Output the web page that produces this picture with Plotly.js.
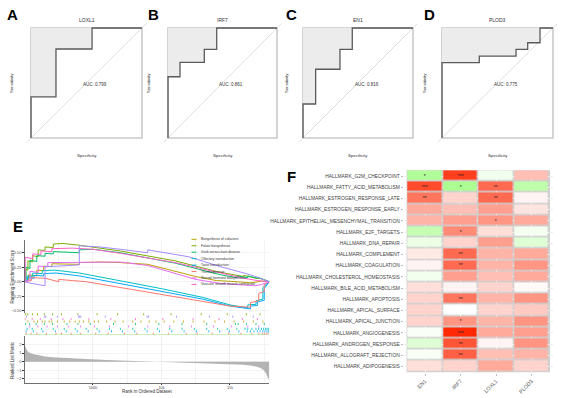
<!DOCTYPE html>
<html><head><meta charset="utf-8">
<script src="https://cdn.plot.ly/plotly-3.0.1.min.js"></script>
<style>html,body{margin:0;padding:0;background:#fff}#plot{width:567px;height:398px}</style>
</head><body><div id="plot"></div>
<script>
// ---------- ROC data (A-D) ----------
const rocGenes = ['LOXL1','IRF7','EN1','PLOD3'];
const rocAUC = ['AUC: 0.799','AUC: 0.861','AUC: 0.816','AUC: 0.775'];
const specLOXL1 = [1,1,0.775,0.775,0.45,0.45,0];
const sensLOXL1 = [0,0.373,0.373,0.809,0.809,1,1];
const specIRF7 = [1,1,0.89,0.89,0.667,0.667,0.553,0.553,0];
const sensIRF7 = [0,0.557,0.557,0.688,0.688,0.806,0.806,1,1];
const specEN1 = [1,1,0.885,0.885,0.664,0.664,0.552,0.552,0];
const sensEN1 = [0,0.309,0.309,0.625,0.625,0.806,0.806,1,1];
const specPLOD3 = [1,1,0.664,0.664,0.333,0.333,0.228,0.228,0.117,0.117,0];
const sensPLOD3 = [0,0.685,0.685,0.745,0.745,0.806,0.806,0.866,0.866,1,1];

// ---------- GSEA data (E) ----------
const setNames = ['Biosynthesis of cofactors','Folate biosynthesis','Graft-versus-host disease','Olfactory transduction','Taste transduction','Thermogenesis','Steroid hormone biosynthesis','Vascular smooth muscle contraction'];
const setColors = ['#B8A000','#7CAE00','#00BE67','#00BFC4','#00A9FF','#F8766D','#E76BF3','#FF61CC'];
const esRankOlive = [0,300,300,900,900,1400,1400,2000,2000,3000,4000,4000,5500,7000,9000,12500,14000,15500,16500,17300,17870];
const esOlive = [0,0.03,0.12,0.1,0.2,0.19,0.27,0.26,0.31,0.3,0.3,0.33,0.34,0.33,0.3,0.09,0.02,0.0,-0.02,0.01,0];
const esRankGreen = [0,100,100,250,250,600,600,1000,1000,1500,1500,2100,2100,2800,4000,7000,11000,14300,16000,16000,16900,17300,17870];
const esGreen = [0,0.05,0.22,0.2,0.36,0.34,0.45,0.43,0.55,0.54,0.6,0.59,0.65,0.66,0.63,0.53,0.36,0.16,0.09,0.11,0.06,0.05,0];
const esRankTeal = [0,100,100,400,400,900,900,1500,1500,2100,2100,4000,4000,5000,7000,11000,14300,15500,15500,16300,16300,17000,17000,17870];
const esTeal = [0,0.02,0.25,0.23,0.37,0.35,0.45,0.44,0.49,0.48,0.52,0.5,0.55,0.56,0.5,0.32,0.12,0.07,0.1,0.07,0.1,0.06,0.08,0];
const esRankCyan = [0,200,200,600,600,1300,1300,2200,4000,7000,10000,13000,15000,16000,16300,16300,16900,16900,17400,17400,17870];
const esCyan = [0,0.02,0.1,0.09,0.15,0.14,0.19,0.2,0.15,0.02,-0.12,-0.27,-0.4,-0.44,-0.45,-0.4,-0.39,-0.33,-0.3,-0.1,0];
const esRankBlue = [0,200,200,700,700,1400,1400,2300,4000,7000,10000,13000,15000,16200,16500,16500,17000,17000,17500,17500,17870];
const esBlue = [0,0.01,0.07,0.06,0.11,0.1,0.14,0.15,0.1,-0.03,-0.16,-0.3,-0.42,-0.46,-0.47,-0.42,-0.41,-0.35,-0.32,-0.12,0];
const esRankRed = [0,500,500,1500,2500,2500,3500,4500,7000,10000,13000,15000,16500,16500,17100,17100,17500,17500,17870];
const esRed = [0,0.02,0.07,0.06,0.0,0.04,0.02,0.0,-0.1,-0.22,-0.34,-0.42,-0.44,-0.36,-0.33,-0.2,-0.17,-0.05,0];
const esRankLav = [0,300,1500,1500,2500,4000,4000,5500,7000,9000,9000,12000,14300,16500,17870];
const esLav = [0,-0.02,-0.07,0.26,0.27,0.29,0.62,0.6,0.56,0.5,0.55,0.43,0.26,0.12,0];
const esRankPink = [0,50,50,600,600,1200,1200,2000,2000,3500,5000,7000,11000,14300,16000,17000,17870];
const esPink = [0,0,0.42,0.4,0.48,0.47,0.53,0.52,0.57,0.58,0.56,0.49,0.33,0.15,0.06,0.02,0];
const esRankMag = [0,400,400,1000,1000,1700,1700,3000,5000,7000,9000,12500,14300,16000,16800,17300,17870];
const esMag = [0,0.03,0.18,0.16,0.27,0.26,0.33,0.33,0.34,0.34,0.28,0.04,-0.03,-0.06,-0.07,-0.05,0];

const hitsA = [250,700,950,1300,1500,1800,2000,2400,2900,3300,3700,4000,4300,4700,5100,5400,6000,6600,7200,7900,8500,9100,9600,10200,10900,11600,12300,13100,13900,14600,15300,16000,16700,17400];
const hitsB = [90,240,580,950,1450,2050,2700,3900,5300,6800,8700,10700,12900,14800,16200,17200];
const hitsC = [80,380,850,1450,2050,3100,3900,4800,6500,8100,9800,11500,13300,15400,15600,16200,16900,17500];
const hitsD = [190,560,1250,2100,2900,3700,4500,5300,6200,7000,7900,8800,9700,10600,11500,12400,13300,14100,14800,15500,16100,16300,16600,16900,17100,17300,17450,17600,17700,17800];
const hitsE = [120,650,1350,2250,3050,3850,4650,5450,6350,7150,8050,8950,9850,10750,11650,12550,13450,14250,14950,15650,16250,16500,16750,17000,17200,17400,17550,17700,17820];
const hitsF = [120,480,900,1600,2300,2700,3400,4100,5200,6100,7300,8200,9400,10500,11800,12600,13700,14900,15800,16600,17100,17350,17500,17650,17780];
const hitsG = [150,1480,1550,2400,3950,4000,4100,5900,8950,9050,11100,13500,15200,16700];
const hitsH = [40,560,1150,1950,2800,3400,4700,6300,8100,10100,12300,14200,15900,17000];
const hitsI = [380,980,1650,2400,3200,4100,5100,6200,7600,9000,10600,12200,13800,15100,16300,17100];

const metricRank = [0,50,150,300,600,1000,1500,2000,3000,4000,5000,6000,7000,8000,9000,10000,11000,12000,13000,14000,15000,16000,16500,17000,17400,17600,17750,17870];
const metricVal = [2.4,1.8,1.4,1.1,0.88,0.72,0.6,0.5,0.4,0.32,0.25,0.18,0.12,0.06,0.02,-0.03,-0.07,-0.11,-0.16,-0.21,-0.27,-0.36,-0.45,-0.6,-0.9,-1.3,-1.8,-2.3];

// ---------- Heatmap data (F) ----------
const hallmarks = ['HALLMARK_G2M_CHECKPOINT','HALLMARK_FATTY_ACID_METABOLISM','HALLMARK_ESTROGEN_RESPONSE_LATE','HALLMARK_ESTROGEN_RESPONSE_EARLY','HALLMARK_EPITHELIAL_MESENCHYMAL_TRANSITION','HALLMARK_E2F_TARGETS','HALLMARK_DNA_REPAIR','HALLMARK_COMPLEMENT','HALLMARK_COAGULATION','HALLMARK_CHOLESTEROL_HOMEOSTASIS','HALLMARK_BILE_ACID_METABOLISM','HALLMARK_APOPTOSIS','HALLMARK_APICAL_SURFACE','HALLMARK_APICAL_JUNCTION','HALLMARK_ANGIOGENESIS','HALLMARK_ANDROGEN_RESPONSE','HALLMARK_ALLOGRAFT_REJECTION','HALLMARK_ADIPOGENESIS'];
const heatGenes = ['EN1','IRF7','LOXL1','PLOD3'];
const valEN1 = [-0.6,0.85,0.65,0.4,0.35,-0.45,-0.15,0.1,0.05,-0.1,0.15,0.2,0.2,0.2,-0.05,-0.25,-0.05,0.15];
const valIRF7 = [0.9,-0.65,0.2,0.3,0.45,0.55,0.2,0.7,0.7,0.45,0.05,0.65,0.0,0.5,1.0,0.8,0.75,0.2];
const valLOXL1 = [-0.1,0.7,0.7,0.45,0.5,0.15,0.45,0.35,0.35,0.3,0.2,0.35,0.2,0.35,0.4,0.05,0.3,0.4];
const valPLOD3 = [0.3,-0.5,0.05,0.12,0.4,-0.08,-0.25,0.4,0.5,0.4,0.03,0.5,0.25,0.5,0.45,0.5,0.35,0.2];
const starEN1 = ['*','***','**','','','','','','','','','','','','','','',''];
const starIRF7 = ['***','*','','','','*','','**','**','','','**','','*','***','**','**',''];
const starLOXL1 = ['','**','**','','*','','','','','','','','','','','','',''];
const starPLOD3 = ['','','','','','','','','','','','','','','','','',''];

// ---------- helpers ----------
const W = 567, H = 398;
const px = v => v / W;
const py = v => 1 - v / H;
const FONT = 'Liberation Sans, Arial, sans-serif';
const traces = [];
const shapes = [];
const annotations = [];
function note(x, y, text, size, extra) {
  annotations.push(Object.assign({xref: 'paper', yref: 'paper', x: px(x), y: py(y), text: text, showarrow: false,
    xanchor: 'center', yanchor: 'middle', font: {size: size, color: '#333'}}, extra || {}));
}
const layout = {
  width: W, height: H, margin: {l:0, r:0, t:0, b:0},
  paper_bgcolor: '#fff', plot_bgcolor: '#fff', showlegend: false,
  font: {family: FONT, color: '#333'}
};

// ---------- ROC panels ----------
const rocSpec = [specLOXL1, specIRF7, specEN1, specPLOD3];
const rocSens = [sensLOXL1, sensIRF7, sensEN1, sensPLOD3];
const boxes = [{L:31,R:142,T:28,B:138,lab:'A',lx:12,sx:12},{L:168,R:277,T:28,B:138,lab:'B',lx:153,sx:149},{L:303,R:413,T:28,B:138,lab:'C',lx:291,sx:287},{L:442,R:553,T:28,B:138,lab:'D',lx:429,sx:425}];
boxes.forEach((b, i) => {
  const k = i + 1;
  const xa = 'x' + k, ya = 'y' + k;
  const padx = 0.05 * (b.R - b.L), pady = 0.05 * (b.B - b.T);
  layout['xaxis' + k] = {domain: [px(b.L - padx), px(b.R + padx)], range: [1.05, -0.05], visible: false, fixedrange: true};
  layout['yaxis' + k] = {domain: [py(b.B + pady), py(b.T - pady)], range: [-0.05, 1.05], visible: false, fixedrange: true};
  shapes.push({type:'rect', xref: xa, yref: ya, x0: 1, x1: 0, y0: 0, y1: 1, line: {color:'#c9c9c9', width: 1.6}, layer: 'below'});
  traces.push({x: rocSpec[i].concat([1]), y: rocSens[i].concat([1]), xaxis: xa, yaxis: ya, type: 'scatter', mode: 'lines', fill: 'toself', fillcolor: '#ececec', line: {width: 0}, hoverinfo: 'skip'});
  traces.push({x: [1.04, -0.04], y: [-0.04, 1.04], xaxis: xa, yaxis: ya, type: 'scatter', mode: 'lines', line: {color: '#d6d6d6', width: 0.8}, hoverinfo: 'skip'});
  traces.push({x: rocSpec[i], y: rocSens[i], xaxis: xa, yaxis: ya, type: 'scatter', mode: 'lines', line: {color: '#5a5a5a', width: 1.3}, hoverinfo: 'skip'});
  annotations.push({xref: xa, yref: ya, x: 0.42, y: 0.49, xanchor: 'center', yanchor: 'middle', text: rocAUC[i], showarrow: false, font: {size: 4.5, color: '#333'}});
  note((b.L + b.R) / 2, 19.5, rocGenes[i], 5);
  note((b.L + b.R) / 2, 155, 'Specificity', 4.3);
  note(b.sx, (b.T + b.B) / 2, 'Sensitivity', 4.3, {textangle: -90});
  note(b.lx, 15, '<b>' + b.lab + '</b>', 15, {font: {size: 15, color: '#000'}});
});

// ---------- GSEA panel ----------
const rmax = 17870;
const gridC = '#ebebeb';
const eL = 24.5, eR = 269.3;
layout.xaxis5 = {domain: [px(eL), px(eR)], range: [0, rmax], showticklabels: false, ticks: '', showgrid: true, gridcolor: gridC, gridwidth: 0.6, dtick: 5000, minor: {dtick: 2500, showgrid: true, gridcolor: gridC, gridwidth: 0.6}, zeroline: false, anchor: 'y5', fixedrange: true};
layout.yaxis5 = {domain: [py(313), py(240)], range: [-0.54, 0.72], tickvals: [-0.5, -0.25, 0, 0.25, 0.5], ticktext: ['−0.50','−0.25','0.00','0.25','0.50'], tickfont: {size: 4, color: '#4d4d4d'}, ticks: 'outside', ticklen: 1.5, tickcolor: '#333', showline: true, linecolor: '#333', linewidth: 0.7, showgrid: true, gridcolor: gridC, gridwidth: 0.6, zeroline: false, anchor: 'x5', fixedrange: true};
layout.xaxis6 = {domain: [px(eL), px(eR)], range: [0, rmax], showticklabels: false, ticks: '', showgrid: true, gridcolor: gridC, gridwidth: 0.6, dtick: 5000, minor: {dtick: 2500, showgrid: true, gridcolor: gridC, gridwidth: 0.6}, zeroline: false, anchor: 'y6', fixedrange: true};
layout.yaxis6 = {domain: [py(335), py(313)], range: [0, 9], visible: false, anchor: 'x6', fixedrange: true};
layout.xaxis7 = {domain: [px(eL), px(eR)], range: [0, rmax], tickvals: [5000, 10000, 15000], tickfont: {size: 3.8, color: '#4d4d4d'}, ticks: 'outside', ticklen: 1, tickcolor: '#333', showline: true, linecolor: '#333', linewidth: 0.7, showgrid: true, gridcolor: gridC, gridwidth: 0.6, minor: {dtick: 2500, showgrid: true, gridcolor: gridC, gridwidth: 0.6}, zeroline: false, anchor: 'y7', fixedrange: true};
layout.yaxis7 = {domain: [py(383), py(336)], range: [-2.5, 3.0], tickvals: [-2, -1, 0, 1, 2], ticktext: ['−2','−1','0','1','2'], tickfont: {size: 4, color: '#4d4d4d'}, ticks: 'outside', ticklen: 1.5, tickcolor: '#333', showline: true, linecolor: '#333', linewidth: 0.7, showgrid: true, gridcolor: gridC, gridwidth: 0.6, zeroline: false, anchor: 'x7', fixedrange: true};

const esSeries = [
  [esRankOlive, esOlive, setColors[0]],
  [esRankGreen, esGreen, setColors[1]],
  [esRankTeal, esTeal, setColors[2]],
  [esRankCyan, esCyan, setColors[3]],
  [esRankBlue, esBlue, setColors[4]],
  [esRankRed, esRed, setColors[5]],
  [esRankMag, esMag, setColors[6]],
  [esRankPink, esPink, setColors[7]],
  [esRankLav, esLav, '#A58AFF']
];
esSeries.forEach(s => traces.push({x: s[0], y: s[1], xaxis: 'x5', yaxis: 'y5', type: 'scatter', mode: 'lines', line: {color: s[2], width: 1}, hoverinfo: 'skip'}));

const hitSets = [hitsB, hitsG, hitsH, hitsA, hitsC, hitsI, hitsD, hitsE, hitsF];
const hitColors = ['#7CAE00', '#A58AFF', '#FF61CC', '#B8A000', '#00BE67', '#E76BF3', '#00BFC4', '#00A9FF', '#F8766D'];
hitSets.forEach((h, i) => {
  const yv = 8.5 - i;
  const xs = [], ys = [];
  h.forEach(r => { xs.push(r, r, null); ys.push(yv - 0.45, yv + 0.45, null); });
  traces.push({x: xs, y: ys, xaxis: 'x6', yaxis: 'y6', type: 'scatter', mode: 'lines', line: {color: hitColors[i], width: 0.8}, hoverinfo: 'skip'});
});
shapes.push({type: 'line', xref: 'x6', yref: 'y6', x0: 0, x1: rmax, y0: 0, y1: 0, line: {color: '#9be07a', width: 1}});
traces.push({x: metricRank, y: metricVal, xaxis: 'x7', yaxis: 'y7', type: 'scatter', mode: 'lines', fill: 'tozeroy', fillcolor: '#b3b3b3', line: {width: 0, color: '#b3b3b3'}, hoverinfo: 'skip'});

// legend (manual)
setNames.forEach((n, i) => {
  const yy = 239.3 + i * 6.45;
  shapes.push({type: 'line', xref: 'paper', yref: 'paper', x0: px(191.5), x1: px(196.5), y0: py(yy), y1: py(yy), line: {color: setColors[i], width: 1}});
  note(198.5, yy, n, 3.4, {xanchor: 'left'});
});
note(12, 276.5, 'Running Enrichment Score', 4.5, {textangle: -90});
note(12, 360, 'Ranked List Metric', 4.5, {textangle: -90});
note(147, 391.5, 'Rank in Ordered Dataset', 4.5);
note(18, 226, '<b>E</b>', 15, {font: {size: 15, color: '#000'}});

// ---------- Heatmap panel ----------
const colVals = [valEN1, valIRF7, valLOXL1, valPLOD3];
const colStars = [starEN1, starIRF7, starLOXL1, starPLOD3];
const z = hallmarks.map((h, r) => colVals.map(c => c[r]));
const txt = hallmarks.map((h, r) => colStars.map(c => c[r]));
const tL = 407.3, tR = 549.3, tT = 170.4, tB = 372;
const cw = (tR - tL) / 4, rh = (tB - tT) / 18;
layout.xaxis8 = {domain: [px(tL - 0.1 * cw), px(tR + 0.1 * cw)], range: [-0.6, 3.6], type: 'category', tickangle: -45, tickfont: {size: 5.3, color: '#4d4d4d'}, ticks: 'outside', ticklen: 2, tickcolor: '#bbb', showgrid: true, gridcolor: '#ececec', anchor: 'y8', fixedrange: true};
layout.yaxis8 = {domain: [py(tB + 0.1 * rh), py(tT - 0.1 * rh)], range: [17.6, -0.6], type: 'category', tickfont: {size: 4.9, color: '#404040'}, ticks: 'outside', ticklen: 2, tickcolor: '#bbb', showgrid: true, gridcolor: '#ececec', anchor: 'x8', fixedrange: true};
shapes.push({type: 'rect', xref: 'x8', yref: 'y8', x0: -0.52, x1: 3.52, y0: -0.52, y1: 17.52, fillcolor: '#cfcfcf', line: {width: 0}, layer: 'below'});
traces.push({type: 'heatmap', x: heatGenes, y: hallmarks, z: z, text: txt, texttemplate: '%{text}', textfont: {size: 5, color: '#222'}, xaxis: 'x8', yaxis: 'y8', zmin: -1, zmax: 1, colorscale: [[0, '#7dfc55'], [0.5, '#ffffff'], [1, '#ff2a05']], showscale: false, xgap: 1.6, ygap: 1.6, hoverinfo: 'skip'});
note(291, 176, '<b>F</b>', 15, {font: {size: 15, color: '#000'}});

layout.shapes = shapes;
layout.annotations = annotations;
Plotly.newPlot('plot', traces, layout, {staticPlot: true, displayModeBar: false});
</script></body></html>
